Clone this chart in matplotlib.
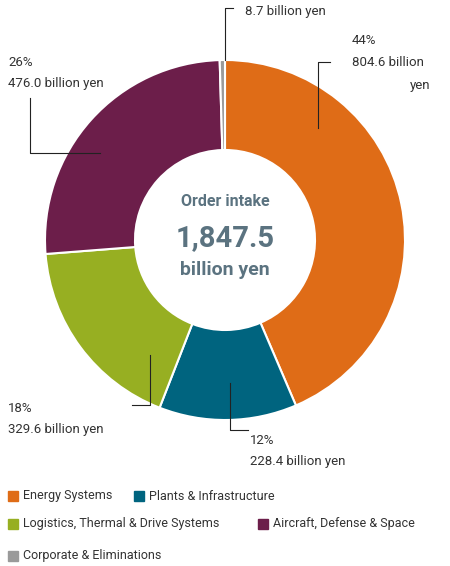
import matplotlib
matplotlib.use("Agg")
import matplotlib.pyplot as plt
from matplotlib.patches import Rectangle

plt.rcParams['font.family'] = ['Roboto', 'DejaVu Sans']

categories = ["Energy Systems", "Plants & Infrastructure", "Logistics, Thermal & Drive Systems",
              "Aircraft, Defense & Space", "Corporate & Eliminations"]
values = [804.6, 228.4, 329.6, 476.0, 8.7]
colors = ["#DF6C17", "#00647F", "#97AF22", "#6C1E4A", "#9A9A9A"]
total_label = "1,847.5"

W, H = 450, 566
fig = plt.figure(figsize=(4.5, 5.66), dpi=100)
cx, cy, R = 225, 240, 180
ax = fig.add_axes([(cx - R) / W, (H - cy - R) / H, 2 * R / W, 2 * R / H])
ax.pie(values, colors=colors, startangle=90, counterclock=False, radius=1,
       wedgeprops=dict(width=0.5, edgecolor="white", linewidth=1.5))
ax.set_xlim(-1, 1); ax.set_ylim(-1, 1); ax.set_aspect('equal'); ax.axis('off')

def P(px, py):
    return ((px - cx) / R, (cy - py) / R)

tc = "#333333"
def line(pts):
    xs, ys = zip(*[P(*p) for p in pts])
    ax.plot(xs, ys, color="#222222", lw=0.8, clip_on=False)
def txt(px, py, s, ha="left"):
    x, y = P(px, py)
    ax.text(x, y, s, ha=ha, va="center", fontsize=9.5, color=tc, clip_on=False)

line([(225, 60), (225, 8), (233, 8)]); txt(245, 12, "8.7 billion yen")
line([(318, 128), (318, 62), (330, 62)])
txt(352, 40, "44%"); txt(352, 62, "804.6 billion"); txt(430, 85, "yen", ha="right")
line([(100, 153), (30, 153), (30, 98)])
txt(8, 62, "26%"); txt(8, 84, "476.0 billion yen")
line([(150, 355), (150, 405), (132, 405)])
txt(8, 408, "18%"); txt(8, 430, "329.6 billion yen")
line([(230, 383), (230, 430), (248, 430)])
txt(250, 440, "12%"); txt(250, 462, "228.4 billion yen")

cc = "#5B7380"
ax.text(0, P(0, 202)[1], "Order intake", ha="center", va="center", fontsize=11.5, fontweight="bold", color=cc)
ax.text(0, P(0, 238)[1], total_label, ha="center", va="center", fontsize=21, fontweight="bold", color=cc)
ax.text(0, P(0, 270)[1], "billion yen", ha="center", va="center", fontsize=14, fontweight="bold", color=cc)

pos = [(8, 496), (134, 496), (8, 524), (258, 524), (8, 556)]
for (lx, ly), c, name in zip(pos, colors, categories):
    fig.add_artist(Rectangle((lx / W, (H - ly - 5) / H), 10 / W, 10 / H, color=c, transform=fig.transFigure))
    fig.text((lx + 15) / W, (H - ly) / H, name, ha="left", va="center", fontsize=9, color=tc)

fig.savefig("out.png", dpi=100)
